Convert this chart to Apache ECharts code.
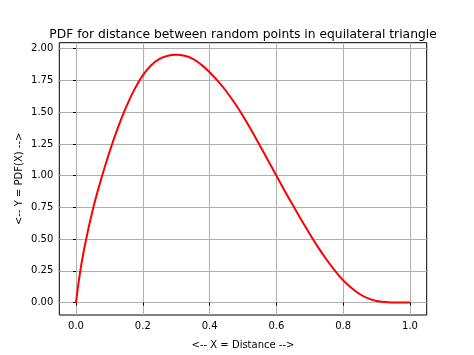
<!DOCTYPE html>
<html>
<head>
<meta charset="utf-8">
<script src="https://cdn.jsdelivr.net/npm/echarts@6/dist/echarts.min.js"></script>
<style>
html,body{margin:0;padding:0;background:#fff;}
#chart{width:474px;height:355px;}
</style>
</head>
<body>
<div id="chart"></div>
<script>
const titleText = 'PDF for distance between random points in equilateral triangle';
const xName = '<-- X = Distance -->';
const yName = '<-- Y = PDF(X) -->';
const xTicks = [0, 0.2, 0.4, 0.6, 0.8, 1.0];
const yTicks = [0, 0.25, 0.5, 0.75, 1.0, 1.25, 1.5, 1.75, 2.0];
const xs = [0, 0.01, 0.025, 0.05, 0.075, 0.1, 0.125, 0.15, 0.175, 0.2,
            0.225, 0.25, 0.275, 0.3, 0.325, 0.35, 0.375, 0.4, 0.425, 0.45,
            0.475, 0.5, 0.525, 0.55, 0.575, 0.6, 0.625, 0.65, 0.675, 0.7,
            0.725, 0.75, 0.775, 0.8, 0.825, 0.85, 0.875, 0.9, 0.925, 0.95,
            0.975, 1.0];
const ys = [0, 0.2, 0.43, 0.73, 0.97, 1.185, 1.375, 1.54, 1.68, 1.79,
            1.87, 1.92, 1.945, 1.952, 1.944, 1.92, 1.875, 1.815, 1.745, 1.665,
            1.572, 1.47, 1.357, 1.24, 1.12, 1.0, 0.88, 0.765, 0.65, 0.54,
            0.435, 0.34, 0.252, 0.175, 0.115, 0.066, 0.033, 0.013, 0.004, 0.001,
            0, 0];

const data = xs.map((x, i) => [x, ys[i]]);
const font = 'DejaVu Sans';
const chart = echarts.init(document.getElementById('chart'), null, {renderer: 'canvas'});
chart.setOption({
  animation: false,
  backgroundColor: '#fff',
  title: {
    text: titleText,
    left: 238,
    textAlign: 'center',
    top: 24,
    textStyle: {fontFamily: font, fontSize: 12.3, fontWeight: 'normal', color: '#000'}
  },
  grid: {
    left: 59.3, right: 47.3, top: 42.7, bottom: 39,
    show: true, borderColor: '#000', borderWidth: 1, backgroundColor: 'transparent'
  },
  xAxis: {
    type: 'value',
    min: -0.05, max: 1.05,
    name: xName,
    nameLocation: 'middle',
    nameGap: 25,
    nameMoveOverlap: false,
    nameTextStyle: {fontFamily: font, fontSize: 10, color: '#000'},
    axisLine: {show: false},
    axisTick: {show: true, length: 3, lineStyle: {color: '#000'}, customValues: xTicks},
    axisLabel: {
      customValues: xTicks, margin: 6,
      fontFamily: font, fontSize: 10, color: '#000',
      formatter: v => v.toFixed(1)
    },
    splitLine: {show: true, lineStyle: {color: '#b0b0b0', width: 1}}
  },
  yAxis: {
    type: 'value',
    min: -0.0975, max: 2.0475,
    name: yName,
    nameLocation: 'middle',
    nameGap: 35,
    nameMoveOverlap: false,
    nameTextStyle: {fontFamily: font, fontSize: 10, color: '#000'},
    axisLine: {show: false},
    axisTick: {show: true, length: 3, lineStyle: {color: '#000'}, customValues: yTicks},
    axisLabel: {
      customValues: yTicks, margin: 6,
      fontFamily: font, fontSize: 10, color: '#000',
      formatter: v => v.toFixed(2)
    },
    splitLine: {show: true, lineStyle: {color: '#b0b0b0', width: 1}}
  },
  series: [{
    type: 'line',
    data: data,
    showSymbol: false,
    smooth: 0.4,
    lineStyle: {color: '#ff0000', width: 2},
    itemStyle: {color: '#ff0000'}
  }]
});
</script>
</body>
</html>
